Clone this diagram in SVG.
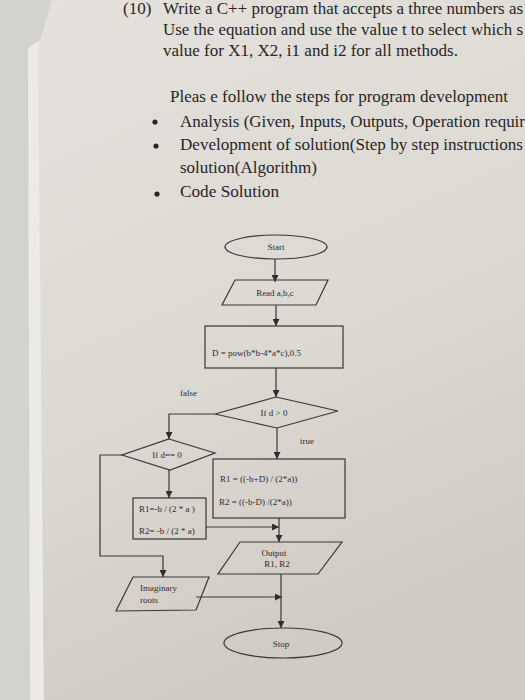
<svg xmlns="http://www.w3.org/2000/svg" width="525" height="700" viewBox="0 0 525 700">
<defs>
<linearGradient id="paper" x1="0" y1="0" x2="0.3" y2="1">
<stop offset="0" stop-color="#e4e1dc"/>
<stop offset="0.6" stop-color="#dcd8d2"/>
<stop offset="1" stop-color="#d0cbc4"/>
</linearGradient>
<marker id="ah" viewBox="0 0 10 10" refX="10" refY="5" markerWidth="7" markerHeight="7" markerUnits="userSpaceOnUse" orient="auto">
<path d="M0,0 L10,5 L0,10 z" fill="#2e2e2e"/>
</marker>
<style>
.hd{font-family:"Liberation Serif",serif;font-size:17px;fill:#262626}
.fc{font-family:"Liberation Serif",serif;font-size:9px;fill:#2e2e2e}
.sh{fill:none;stroke:#383838;stroke-width:1.2}
.cn{fill:none;stroke:#383838;stroke-width:1.2;marker-end:url(#ah)}
.ln{fill:none;stroke:#383838;stroke-width:1.2}
</style>
</defs>
<rect width="525" height="700" fill="#d4d2cf"/>
<polygon points="28,48 40,40 44,700 30,700" fill="#ebeae7"/>
<polygon points="52,0 525,0 525,700 44,700 38,48" fill="url(#paper)"/>

<g id="heading">
<text class="hd" x="123" y="14">(10)</text>
<text class="hd" x="163" y="14" textLength="360" lengthAdjust="spacingAndGlyphs">Write a C++ program that accepts a three numbers as</text>
<text class="hd" x="163" y="35" textLength="360" lengthAdjust="spacingAndGlyphs">Use the equation and use the value t to select which s</text>
<text class="hd" x="163" y="56" textLength="295" lengthAdjust="spacingAndGlyphs">value for X1, X2, i1 and i2 for all methods.</text>
<text class="hd" x="170" y="102" textLength="338" lengthAdjust="spacingAndGlyphs">Pleas e follow the steps for program development</text>
<circle cx="155" cy="122" r="2.6" fill="#262626"/>
<text class="hd" x="180" y="127" textLength="345" lengthAdjust="spacingAndGlyphs">Analysis (Given, Inputs, Outputs, Operation requir</text>
<circle cx="156" cy="146" r="2.6" fill="#262626"/>
<text class="hd" x="180" y="150" textLength="343" lengthAdjust="spacingAndGlyphs">Development of solution(Step by step instructions</text>
<text class="hd" x="180" y="173" textLength="137" lengthAdjust="spacingAndGlyphs">solution(Algorithm)</text>
<circle cx="157" cy="194" r="2.6" fill="#262626"/>
<text class="hd" x="180" y="197" textLength="99" lengthAdjust="spacingAndGlyphs">Code Solution</text>
</g>

<g id="connectors">
<path class="cn" d="M275 259 V282"/>
<path class="ln" d="M276 305 V320"/>
<path class="cn" d="M276 318 V326"/>
<path class="cn" d="M276 368 V397"/>
<path class="cn" d="M215 414 H169 V439"/>
<path class="cn" d="M277 428 V459"/>
<path class="cn" d="M169 470 V498"/>
<path class="cn" d="M122 455 H100 V556 H163 V577"/>
<path class="cn" d="M206 527 H279"/>
<path class="cn" d="M279 518 V542"/>
<path class="cn" d="M196 597 H282"/>
<path class="cn" d="M281 574 V628"/>
</g>

<g id="start">
<ellipse class="sh" cx="276" cy="247" rx="51" ry="12"/>
<text class="fc" x="276" y="250" text-anchor="middle">Start</text>
</g>
<g id="read">
<polygon class="sh" points="235,280 328,280 316,305 222,305"/>
<text class="fc" x="275" y="296" text-anchor="middle">Read a,b,c</text>
</g>
<g id="compute-d">
<rect class="sh" x="205" y="326" width="138" height="42"/>
<text class="fc" x="212" y="356">D = pow(b*b-4*a*c),0.5</text>
</g>
<g id="if-d-gt-0">
<polygon class="sh" points="276,397 338,411 277,428 215,414"/>
<text class="fc" x="274" y="416" text-anchor="middle">If  d &gt; 0</text>
</g>
<g id="label-false">
<text class="fc" x="180" y="396">false</text>
</g>
<g id="label-true">
<text class="fc" x="300" y="444">true</text>
</g>
<g id="if-d-eq-0">
<polygon class="sh" points="169,439 215,453 170,470 122,455"/>
<text class="fc" x="167" y="458" text-anchor="middle">If  d== 0</text>
</g>
<g id="two-roots">
<rect class="sh" x="213" y="459" width="132" height="59"/>
<text class="fc" x="220" y="482">R1 = ((-b+D) / (2*a))</text>
<text class="fc" x="219" y="505">R2 = ((-b-D) /(2*a))</text>
</g>
<g id="equal-roots">
<rect class="sh" x="133" y="498" width="73" height="41"/>
<text class="fc" x="139" y="512">R1=-b / (2 * a )</text>
<text class="fc" x="139" y="534">R2= -b / (2 * a)</text>
</g>
<g id="output">
<polygon class="sh" points="240,542 342,542 318,574 218,574"/>
<text class="fc" x="274" y="556" text-anchor="middle">Output</text>
<text class="fc" x="277" y="567" text-anchor="middle">R1, R2</text>
</g>
<g id="imaginary">
<polygon class="sh" points="133,577 209,577 196,610 116,611"/>
<text class="fc" x="140" y="591">Imaginary</text>
<text class="fc" x="140" y="603">roots</text>
</g>
<g id="stop">
<ellipse class="sh" cx="283" cy="643" rx="59" ry="15"/>
<text class="fc" x="281" y="647" text-anchor="middle">Stop</text>
</g>
</svg>
